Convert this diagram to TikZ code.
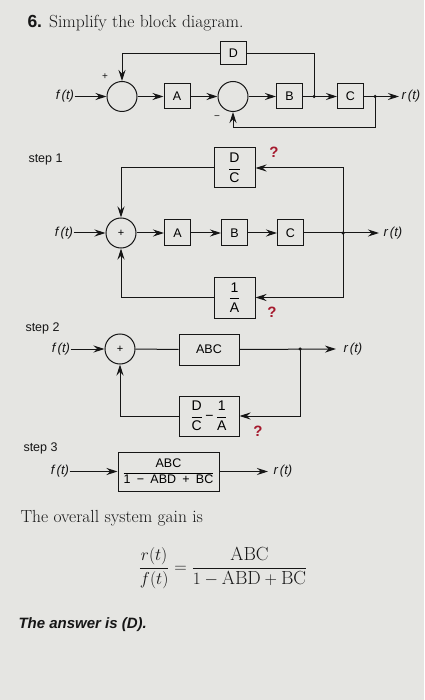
\documentclass[tikz,border=0pt]{standalone}
\usepackage{fontspec}
\usepackage{amsmath}
\setsansfont{Liberation Sans}
\usetikzlibrary{arrows.meta}
\definecolor{bg}{RGB}{229,229,226}
\definecolor{ink}{RGB}{22,22,22}
\definecolor{qred}{RGB}{165,25,45}
\begin{document}
\begin{tikzpicture}[x=1pt,y=-1pt,
  line width=1pt, draw=ink,
  >={Stealth[length=11pt,width=7pt]},
  blk/.style={draw=ink, inner sep=0pt, font=\sffamily\fontsize{12.5}{14}\selectfont},
  fblk/.style={blk, font=\sffamily\fontsize{14}{16}\selectfont},
  sum/.style={draw=ink, circle, minimum size=30pt, inner sep=0pt, font=\sffamily\fontsize{11}{12}\selectfont},
  lbl/.style={text=ink, inner sep=0pt, font=\sffamily\fontsize{12.5}{14}\selectfont},
  sig/.style={text=ink, inner sep=0pt, font=\sffamily\itshape\fontsize{13}{15}\selectfont},
  jdot/.style={circle, fill=ink, inner sep=0pt, minimum size=3.5pt},
  qm/.style={text=qred, inner sep=0pt, font=\sffamily\bfseries\fontsize{15}{17}\selectfont},
  body/.style={text=ink, inner sep=0pt, font=\fontsize{17.5}{20}\selectfont}
]
\useasboundingbox (0,0) rectangle (424,700);
\fill[bg] (0,0) rectangle (424,700);

% title
\node[body, anchor=base west] (title) at (27,28) {{\sffamily\bfseries 6.} Simplify the block diagram.};

% ---------- original diagram ----------
\node[sig] (f0) at (65,96.5) {f\,(t)};
\node[sum] (s1) at (122,96.5) {};
\node[blk, minimum width=26pt, minimum height=25pt] (A0) at (177,96.5) {A};
\node[sum] (s2) at (233,96.5) {};
\node[blk, minimum width=26pt, minimum height=25pt] (B0) at (289.5,96.5) {B};
\node[jdot] (j1) at (314,96.5) {};
\node[blk, minimum width=26pt, minimum height=25pt] (C0) at (350.5,96.5) {C};
\node[jdot] (j2) at (375,96.5) {};
\coordinate (o0) at (399,96.5);
\node[sig, anchor=west] (r0) at (401,96.5) {r\,(t)};
\node[blk, minimum width=26pt, minimum height=23pt] (D0) at (233.5,53.5) {D};
\node[lbl, font=\sffamily\fontsize{10}{12}\selectfont] (plus0) at (105,77) {+};
\node[lbl, font=\sffamily\fontsize{10}{12}\selectfont] (minus0) at (217,118) {−};
\coordinate (b0) at (375,128);

\draw[->] (f0.east) -- (s1.west);
\draw[->] (s1.east) -- (A0.west);
\draw[->] (A0.east) -- (s2.west);
\draw[->] (s2.east) -- (B0.west);
\draw[->] (B0.east) -- (C0.west);
\draw[->] (C0.east) -- (o0);
\draw (j1.center) |- (D0.east);
\draw[->] (D0.west) -| (s1.north);
\draw[->] (j2.center) -- (b0) -| (s2.south);

% ---------- step 1 ----------
\node[lbl, anchor=west] (st1) at (28,159) {step 1};
\node[sig] (f1) at (64,233) {f\,(t)};
\node[sum] (s3) at (121,233) {+};
\node[blk, minimum width=26pt, minimum height=26pt] (A1) at (177.5,233) {A};
\node[blk, minimum width=26pt, minimum height=26pt] (B1) at (234.5,233) {B};
\node[blk, minimum width=26pt, minimum height=26pt] (C1) at (290.5,233) {C};
\node[jdot] (j3) at (343,233) {};
\coordinate (o1) at (379,233);
\node[sig, anchor=west] (r1) at (383,233) {r\,(t)};
\node[fblk, minimum width=41pt, minimum height=40pt] (DC) at (234.5,168) {$\dfrac{\text{D}}{\text{C}}$};
\node[fblk, minimum width=41pt, minimum height=41pt] (IA) at (234.5,297.5) {$\dfrac{\text{1}}{\text{A}}$};
\node[qm] (q1) at (274,152) {?};
\node[qm] (q2) at (272,312) {?};

\draw[->] (f1.east) -- (s3.west);
\draw[->] (s3.east) -- (A1.west);
\draw[->] (A1.east) -- (B1.west);
\draw[->] (B1.east) -- (C1.west);
\draw[->] (C1.east) -- (o1);
\draw[->] (j3.center) |- (DC.east);
\draw[->] (DC.west) -| (s3.north);
\draw[->] (j3.center) |- (IA.east);
\draw[->] (IA.west) -| (s3.south);

% ---------- step 2 ----------
\node[lbl, anchor=west] (st2) at (25,328) {step 2};
\node[sig] (f2) at (61,349) {f\,(t)};
\node[sum] (s4) at (120,349) {+};
\node[blk, minimum width=60pt, minimum height=31pt] (ABC) at (209,349.5) {ABC};
\node[jdot] (j4) at (300,349) {};
\coordinate (o2) at (336,349);
\node[sig, anchor=west] (r2) at (343,349) {r\,(t)};
\node[fblk, minimum width=60pt, minimum height=40pt] (FB) at (209,416) {$\dfrac{\text{D}}{\text{C}}\text{\,−\,}\dfrac{\text{1}}{\text{A}}$};
\node[qm] (q3) at (258,431) {?};

\draw[->] (f2.east) -- (s4.west);
\draw (s4.east) -- (ABC.west);
\draw[->] (ABC.east) -- (o2);
\draw[->] (j4.center) |- (FB.east);
\draw[->] (FB.west) -| (s4.south);

% ---------- step 3 ----------
\node[lbl, anchor=west] (st3) at (23,448) {step 3};
\node[sig] (f3) at (60,471.5) {f\,(t)};
\node[blk, minimum width=101pt, minimum height=39pt] (G) at (168.5,471.5) {$\dfrac{\text{ABC}}{\text{1\enspace−\enspace ABD\enspace+\enspace BC}}$};
\coordinate (o3) at (268,471.5);
\node[sig, anchor=west] (r3) at (273,471.5) {r\,(t)};
\draw[->] (f3.east) -- (G.west);
\draw[->] (G.east) -- (o3);

% ---------- text ----------
\node[body, anchor=base west] (gain) at (20,522) {The overall system gain is};
\node[body, font=\fontsize{19}{22}\selectfont] (eq) at (223,568) {$\dfrac{r(t)}{f(t)}=\dfrac{\mathrm{ABC}}{1-\mathrm{ABD}+\mathrm{BC}}$};
\node[body, anchor=base west, font=\sffamily\bfseries\itshape\fontsize{15}{17}\selectfont] (ans) at (18,628) {The answer is (D).};
\end{tikzpicture}
\end{document}
